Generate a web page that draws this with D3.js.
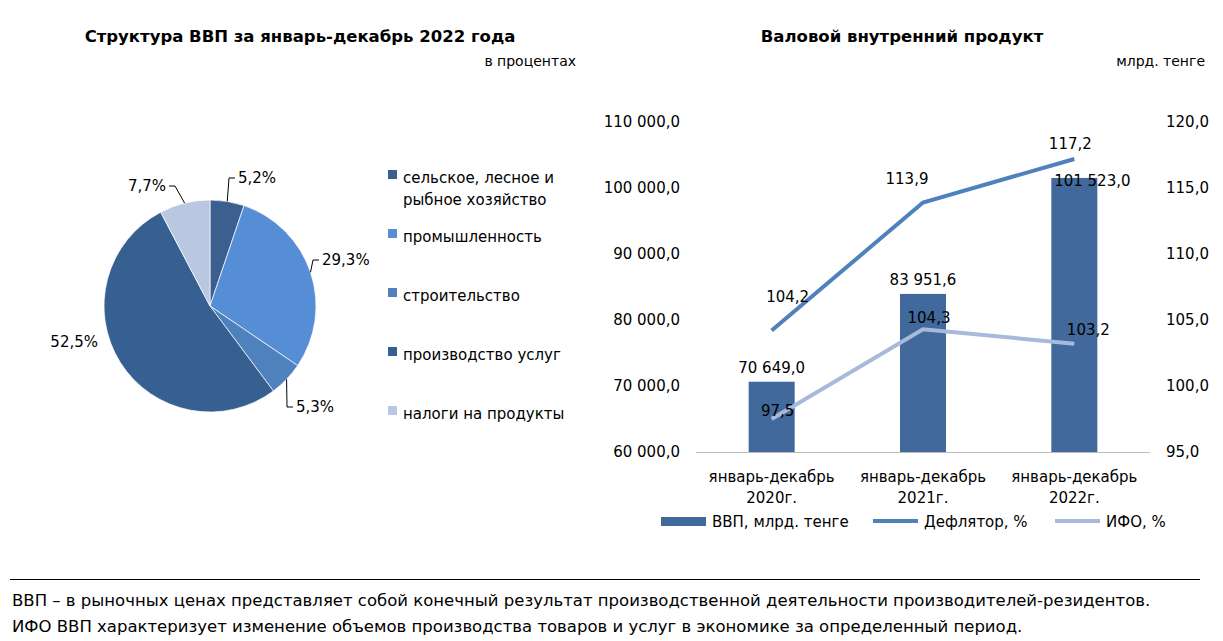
<!DOCTYPE html>
<html><head><meta charset="utf-8">
<script src="https://cdn.jsdelivr.net/npm/d3@7"></script>
<style>body{margin:0;background:#fff;font-family:"DejaVu Sans",Arial,sans-serif}</style>
</head><body>
<svg id="c" width="1223" height="641"></svg>
<script>
const pieLabels = ["сельское, лесное и|рыбное хозяйство", "промышленность", "строительство", "производство услуг", "налоги на продукты"]
const pieValues = [5.2, 29.3, 5.3, 52.5, 7.7]
const pieColors = ["#3d5f8f", "#558ed5", "#4f81bd", "#376092", "#b9c7e0"]

const years = ["январь-декабрь|2020г.", "январь-декабрь|2021г.", "январь-декабрь|2022г."]
const gdp = [70649.0, 83951.6, 101523.0]
const deflator = [104.2, 113.9, 117.2]
const ifo = [97.5, 104.3, 103.2]
const leftTicks = [60000, 70000, 80000, 90000, 100000, 110000]
const rightTicks = [95, 100, 105, 110, 115, 120]

const svg = d3.select("#c").attr("font-family", "DejaVu Sans, Arial")
const fmt = v => d3.format(",.1f")(v).replace(/,/g, "\u00a0").replace(".", ",")
const fmt1 = v => d3.format(".1f")(v).replace(".", ",")

// titles
svg.append("text").attr("x", 300).attr("y", 42).attr("text-anchor", "middle")
  .attr("font-weight", "bold").attr("font-size", 16.5).text("Структура  ВВП за январь-декабрь  2022 года")
svg.append("text").attr("x", 576).attr("y", 66).attr("text-anchor", "end").attr("font-size", 14).text("в процентах")
svg.append("text").attr("x", 902).attr("y", 42).attr("text-anchor", "middle")
  .attr("font-weight", "bold").attr("font-size", 16.5).text("Валовой  внутренний продукт")
svg.append("text").attr("x", 1205).attr("y", 66).attr("text-anchor", "end").attr("font-size", 14).text("млрд. тенге")

// pie
const cx = 210, cy = 306, r = 106
const pie = d3.pie().sort(null)(pieValues)
const arc = d3.arc().innerRadius(0).outerRadius(r)
const g = svg.append("g").attr("transform", `translate(${cx},${cy})`)
g.selectAll("path").data(pie).join("path").attr("d", arc)
  .attr("fill", (d, i) => pieColors[i]).attr("stroke", "#fff").attr("stroke-width", 0.7)

const labelPos = [[238, 183, "start"], [322, 265, "start"], [296, 412, "start"], [98, 347, "end"], [166, 191, "end"]]
pie.forEach((d, i) => {
  const [lx, ly, anchor] = labelPos[i]
  const a = (d.startAngle + d.endAngle) / 2
  const ex = cx + Math.sin(a) * r, ey = cy - Math.cos(a) * r
  svg.append("text").attr("x", lx).attr("y", ly).attr("text-anchor", anchor)
    .attr("font-size", 15).text(fmt1(pieValues[i]) + "%")
  if (i !== 3) {
    const hx = anchor === "start" ? lx - 3 : lx + 3
    const hy = ly - 5
    const hx2 = anchor === "start" ? hx - 6 : hx + 6
    svg.append("polyline").attr("fill", "none").attr("stroke", "#000")
      .attr("points", `${hx},${hy} ${hx2},${hy} ${ex},${ey}`)
  }
})

// pie legend
const legY = [178, 237, 296, 355, 414]
pieLabels.forEach((l, i) => {
  svg.append("rect").attr("x", 388).attr("y", legY[i] - 8).attr("width", 9).attr("height", 9).attr("fill", pieColors[i])
  l.split("|").forEach((t, j) => svg.append("text").attr("x", 403).attr("y", legY[i] + 5 + j * 22)
    .attr("font-size", 15).text(t))
})

// bar/line chart
const x = d3.scaleBand().domain(years).range([696, 1150])
const yL = d3.scaleLinear().domain([60000, 110000]).range([452, 122])
const yR = d3.scaleLinear().domain([95, 120]).range([452, 122])
const cxOf = d => x(d) + x.bandwidth() / 2

const axL = svg.append("g").attr("transform", "translate(688,0)")
  .call(d3.axisLeft(yL).tickValues(leftTicks).tickSize(0).tickPadding(8).tickFormat(fmt))
const axR = svg.append("g").attr("transform", "translate(1158,0)")
  .call(d3.axisRight(yR).tickValues(rightTicks).tickSize(0).tickPadding(8).tickFormat(fmt1))
;[axL, axR].forEach(a => { a.select(".domain").remove(); a.selectAll("text").attr("font-size", 15).attr("font-family", "DejaVu Sans, Arial") })

const bw = 46
svg.selectAll(".bar").data(gdp).join("rect").attr("class", "bar")
  .attr("x", (d, i) => cxOf(years[i]) - bw / 2).attr("width", bw)
  .attr("y", d => yL(d)).attr("height", d => 452 - yL(d)).attr("fill", "#41699c")

const line = arr => d3.line().x((d, i) => cxOf(years[i])).y(d => yR(d))(arr)
svg.append("path").attr("d", line(ifo)).attr("fill", "none").attr("stroke", "#a9b9db").attr("stroke-width", 4)
svg.append("path").attr("d", line(deflator)).attr("fill", "none").attr("stroke", "#4f81bd").attr("stroke-width", 4)

svg.append("line").attr("x1", 696).attr("x2", 1150).attr("y1", 452.5).attr("y2", 452.5).attr("stroke", "#bfbfbf")

const lbl = (txt, xx, yy) => svg.append("text").attr("x", xx).attr("y", yy).attr("text-anchor", "middle").attr("font-size", 15).text(txt)
gdp.forEach((v, i) => lbl(fmt(v), cxOf(years[i]) + (i === 2 ? 18 : 0), yL(v) - (i === 2 ? -8 : 9)))
deflator.forEach((v, i) => lbl(fmt1(v), cxOf(years[i]) + (i === 0 ? 16 : i === 2 ? -4 : -16), yR(v) - (i === 0 ? 29 : i === 1 ? 19 : 10)))
ifo.forEach((v, i) => lbl(fmt1(v), cxOf(years[i]) + (i === 0 ? 6 : i === 1 ? 6 : 14), yR(v) + (i === 0 ? -3 : i === 1 ? -6 : -9)))

years.forEach(y => y.split("|").forEach((t, j) => lbl(t, cxOf(y), 482 + j * 21)))

// legend
const leg = [["rect", "#41699c", "ВВП, млрд. тенге", 661], ["line", "#4f81bd", "Дефлятор, %", 873], ["line", "#a9b9db", "ИФО, %", 1055]]
leg.forEach(([t, c, txt, lx]) => {
  if (t === "rect") svg.append("rect").attr("x", lx).attr("y", 517).attr("width", 45).attr("height", 9).attr("fill", c)
  else svg.append("line").attr("x1", lx).attr("x2", lx + 45).attr("y1", 521).attr("y2", 521).attr("stroke", c).attr("stroke-width", 4)
  svg.append("text").attr("x", lx + 51).attr("y", 527).attr("font-size", 15).text(txt)
})

// footnote
svg.append("line").attr("x1", 10).attr("x2", 1200).attr("y1", 579.5).attr("y2", 579.5).attr("stroke", "#000")
svg.append("text").attr("x", 12).attr("y", 606).attr("font-size", 16.5).text("ВВП – в рыночных ценах представляет собой конечный результат производственной деятельности производителей-резидентов.")
svg.append("text").attr("x", 12).attr("y", 632).attr("font-size", 16.5).text("ИФО ВВП характеризует изменение  объемов производства товаров и услуг в экономике за определенный период.")
</script>
</body></html>
